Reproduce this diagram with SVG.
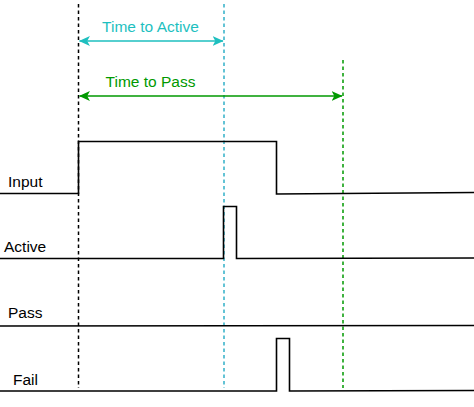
<svg xmlns="http://www.w3.org/2000/svg" width="474" height="407" viewBox="0 0 474 407">
<style>
.bg{fill:#ffffff}
.sig{fill:none;stroke:#000000;stroke-width:1.6;stroke-linejoin:miter}
.guide{fill:none;stroke-width:1.5;stroke-dasharray:3.5 3}
.lbl{font-family:"Liberation Sans",Arial,sans-serif;font-size:15.5px;fill:#000000}
.dim{font-family:"Liberation Sans",Arial,sans-serif;font-size:15.5px;text-anchor:middle}
</style>
<defs>
<marker id="ahC" viewBox="0 0 10 10" refX="9.5" refY="5" markerWidth="11" markerHeight="10" markerUnits="userSpaceOnUse" orient="auto-start-reverse" preserveAspectRatio="none">
<path d="M0,0 L10,5 L0,10 L2.5,5 Z" fill="#1EBFBF"/>
</marker>
<marker id="ahG" viewBox="0 0 10 10" refX="9.5" refY="5" markerWidth="11" markerHeight="10" markerUnits="userSpaceOnUse" orient="auto-start-reverse" preserveAspectRatio="none">
<path d="M0,0 L10,5 L0,10 L2.5,5 Z" fill="#009900"/>
</marker>
</defs>
<rect class="bg" x="0" y="0" width="474" height="407"/>
<g id="guides">
<line class="guide" x1="78.5" y1="4" x2="78.5" y2="388" stroke="#000000"/>
<line class="guide" x1="224" y1="4" x2="224" y2="388" stroke="#30B0C8"/>
<line class="guide" x1="343" y1="60" x2="343" y2="388" stroke="#009900"/>
</g>
<g id="connectors">
<line x1="79.5" y1="41" x2="223" y2="41" stroke="#1EBFBF" stroke-width="1.6" marker-start="url(#ahC)" marker-end="url(#ahC)"/>
<line x1="79.5" y1="96" x2="342" y2="96" stroke="#009900" stroke-width="1.6" marker-start="url(#ahG)" marker-end="url(#ahG)"/>
</g>
<g id="time-to-active">
<text class="dim" x="150.5" y="32" fill="#1EBFBF">Time to Active</text>
</g>
<g id="time-to-pass">
<text class="dim" x="150.5" y="87" fill="#009900">Time to Pass</text>
</g>
<g id="input">
<path class="sig" d="M0,193.5 H78.5 V141.5 H276.5 V194 L474,192.5"/>
<text class="lbl" x="8" y="187">Input</text>
</g>
<g id="active">
<path class="sig" d="M0,258.5 H223.5 V206.5 H236.5 V258.5 L474,258"/>
<text class="lbl" x="4" y="252">Active</text>
</g>
<g id="pass">
<path class="sig" d="M0,326 L474,325.5"/>
<text class="lbl" x="8" y="318">Pass</text>
</g>
<g id="fail">
<path class="sig" d="M0,391 H276.5 V338.5 H289.5 V391 L474,390.5"/>
<text class="lbl" x="13" y="385">Fail</text>
</g>
</svg>
